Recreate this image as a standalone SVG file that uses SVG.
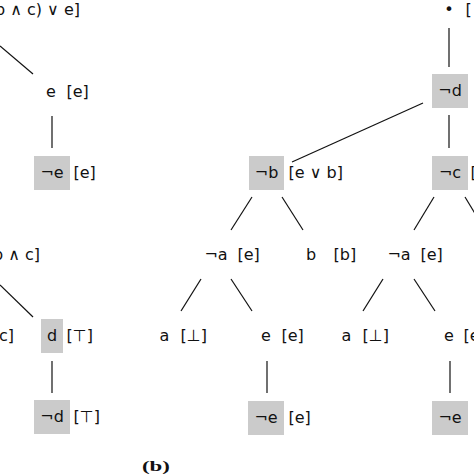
<svg xmlns="http://www.w3.org/2000/svg" width="474" height="474" viewBox="0 0 474 474">
<style>
text{font-family:"DejaVu Sans","Liberation Sans",sans-serif;font-size:16px;fill:#111}
.n{text-anchor:middle}
.e{text-anchor:end}
.box{fill:#cbcbcb}
.edge{stroke:#111;stroke-width:1.2;fill:none}
.cap{font-family:"Liberation Serif",serif;font-weight:bold;font-size:14px}
</style>
<rect width="474" height="474" fill="#fff"/>
<g id="connectors">
<line class="edge" x1="0" y1="46" x2="33" y2="74"/>
<line class="edge" x1="52" y1="116" x2="52" y2="148"/>
<line class="edge" x1="0" y1="285" x2="33" y2="317"/>
<line class="edge" x1="52" y1="361" x2="52" y2="393"/>
<line class="edge" x1="449" y1="28" x2="449" y2="67"/>
<line class="edge" x1="449" y1="115" x2="449" y2="148"/>
<line class="edge" x1="423" y1="103" x2="292" y2="162"/>
<line class="edge" x1="434" y1="197" x2="414" y2="230"/>
<line class="edge" x1="465" y1="197" x2="485" y2="230"/>
<line class="edge" x1="252" y1="197" x2="231" y2="230"/>
<line class="edge" x1="282" y1="197" x2="303" y2="230"/>
<line class="edge" x1="201" y1="279" x2="181" y2="311"/>
<line class="edge" x1="231" y1="279" x2="252" y2="311"/>
<line class="edge" x1="267" y1="361" x2="267" y2="393"/>
<line class="edge" x1="383" y1="279" x2="363" y2="311"/>
<line class="edge" x1="414" y1="279" x2="435" y2="311"/>
<line class="edge" x1="450" y1="361" x2="450" y2="393"/>
</g>
<g id="left-top"><text class="e" x="80" y="15">b ∧ c) ∨ e]</text></g>
<g id="left-e"><text class="n" x="51" y="97">e</text><text x="66.5" y="97">[e]</text></g>
<g id="left-not-e"><rect class="box" x="34" y="156" width="36" height="34"/><text class="n" x="52" y="178">¬e</text><text x="73.5" y="178">[e]</text></g>
<g id="left-bc"><text class="e" x="40" y="260">b ∧ c]</text></g>
<g id="left-c"><text class="e" x="14" y="341">c]</text></g>
<g id="left-d"><rect class="box" x="41" y="319" width="22" height="34"/><text class="n" x="52" y="341">d</text><text x="66.5" y="341">[⊤]</text></g>
<g id="left-not-d"><rect class="box" x="34" y="400" width="36" height="34"/><text class="n" x="52" y="422">¬d</text><text x="73.5" y="422">[⊤]</text></g>
<g id="root"><text class="n" x="449" y="15">•</text><text x="465.5" y="15">[</text></g>
<g id="not-d"><rect class="box" x="432" y="74" width="36" height="34"/><text class="n" x="450" y="96">¬d</text></g>
<g id="not-c"><rect class="box" x="432" y="156" width="36" height="34"/><text class="n" x="450" y="178">¬c</text><text x="470.5" y="178">[</text></g>
<g id="not-b"><rect class="box" x="249" y="156" width="35" height="34"/><text class="n" x="266.5" y="178">¬b</text><text x="288.5" y="178">[e ∨ b]</text></g>
<g id="not-a-1"><text class="n" x="216" y="260">¬a</text><text x="237.5" y="260">[e]</text></g>
<g id="b"><text class="n" x="311" y="260">b</text><text x="333.5" y="260">[b]</text></g>
<g id="a-1"><text class="n" x="164.5" y="341">a</text><text x="180.5" y="341">[⊥]</text></g>
<g id="e-1"><text class="n" x="266" y="341">e</text><text x="281.5" y="341">[e]</text></g>
<g id="not-e-1"><rect class="box" x="248" y="401" width="36" height="34"/><text class="n" x="266" y="423">¬e</text><text x="288.5" y="423">[e]</text></g>
<g id="not-a-2"><text class="n" x="399" y="260">¬a</text><text x="420.5" y="260">[e]</text></g>
<g id="a-2"><text class="n" x="346.5" y="341">a</text><text x="362.5" y="341">[⊥]</text></g>
<g id="e-2"><text class="n" x="449" y="341">e</text><text x="463.5" y="341">[e]</text></g>
<g id="not-e-2"><rect class="box" x="432" y="401" width="36" height="34"/><text class="n" x="450" y="423">¬e</text></g>
<text class="cap" x="142" y="471" textLength="28" lengthAdjust="spacingAndGlyphs">(b)</text>
</svg>
